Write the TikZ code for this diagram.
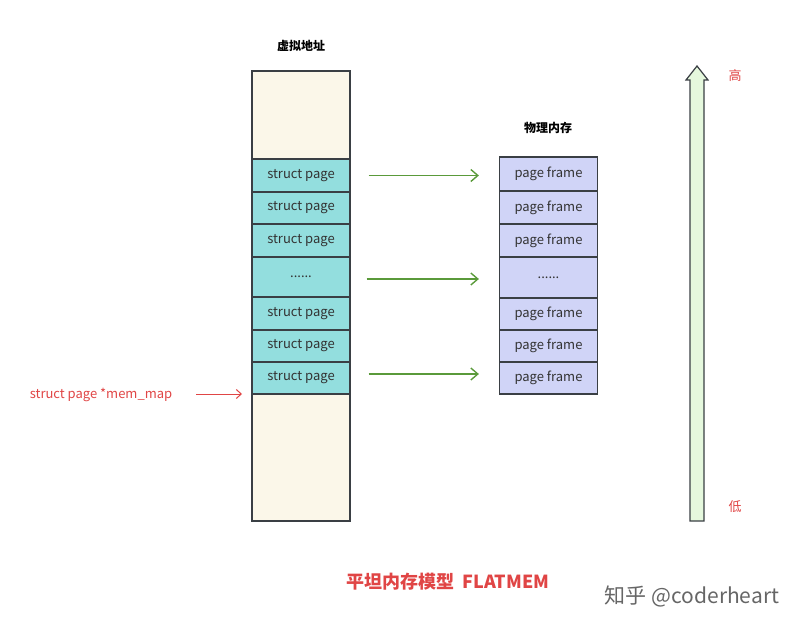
\documentclass[tikz,border=0pt]{standalone}
\usepackage{fontspec}
\setmainfont{Noto Sans CJK SC}
\usetikzlibrary{arrows.meta}
\definecolor{cream}{HTML}{FBF7E9}
\definecolor{cyanc}{HTML}{93DEDE}
\definecolor{lav}{HTML}{D0D4F7}
\definecolor{grn}{HTML}{5A9A3A}
\definecolor{redc}{HTML}{E04545}
\definecolor{upfill}{HTML}{E5F8DD}
\definecolor{edge}{HTML}{3A3F44}
\tikzset{
 cell/.style={draw=edge,line width=1.2pt,minimum width=98pt,inner sep=0pt,font=\fontsize{13}{15}\selectfont,text=black!80},
 sp/.style={cell,fill=cyanc},
 pf/.style={cell,fill=lav},
 map/.style={draw=grn,line width=1.4pt,-{Straight Barb[length=7pt,width=12pt]}},
 lab/.style={font=\fontsize{12}{14}\selectfont\bfseries}
}
\begin{document}
\begin{tikzpicture}[x=1pt,y=-1pt]
\useasboundingbox (0,0) rectangle (806,628);
\node[draw=edge,line width=1.2pt,fill=cream,minimum width=98pt,minimum height=450pt,inner sep=0pt] (col) at (301,296) {};
\foreach \n/\a/\b/\t in {s1/159/192/struct page,s2/192/224/struct page,s3/224/257/struct page,s4/257/297/{......},s5/297/330/struct page,s6/330/362/struct page,s7/362/394/struct page}
 \node[sp,minimum height=\b-\a] (\n) at (301,{(\a+\b)/2}) {\t};
\foreach \n/\a/\b/\t in {p1/157/191/page frame,p2/191/224/page frame,p3/224/257/page frame,p4/257/298/{......},p5/298/330/page frame,p6/330/362/page frame,p7/362/394/page frame}
 \node[pf,minimum height=\b-\a] (\n) at (548.5,{(\a+\b)/2}) {\t};
\draw[map] ([xshift=18pt]s1.east) -- ([xshift=-20pt]s1.east -| p1.west);
\draw[map] ([xshift=16pt,yshift=-2pt]s4.east) -- ([xshift=-20pt,yshift=-2pt]s4.east -| p4.west);
\draw[map] ([xshift=18pt,yshift=4pt]s7.east) -- ([xshift=-20pt,yshift=4pt]s7.east -| p7.west);
\node[lab] (t1) at (301,46) {虚拟地址};
\node[lab] (t2) at (548,128) {物理内存};
\coordinate (mm) at (252,394);
\node[text=redc,font=\fontsize{13}{15}\selectfont] (ml) at (101,395) {struct page *mem\_map};
\draw[redc,line width=1pt,-{Straight Barb[length=5pt,width=9pt]}] (196,394) -- ([xshift=-10pt]mm);
\draw[edge,line width=1.2pt,fill=upfill] (690,521) -- (690,80) -- (686,80) -- (697,66) -- (708,80) -- (704,80) -- (704,521) -- cycle;
\node[text=redc,font=\fontsize{13}{15}\selectfont] (hi) at (735,76) {高};
\node[text=redc,font=\fontsize{13}{15}\selectfont] (lo) at (735,507) {低};
\node[text=redc,font=\fontsize{18}{20}\selectfont\bfseries] (title) at (448,582) {平坦内存模型\ \ FLATMEM};
\node[text=black!60,font=\fontsize{21}{24}\selectfont] (wm) at (692,596) {知乎 @coderheart};
\end{tikzpicture}
\end{document}
